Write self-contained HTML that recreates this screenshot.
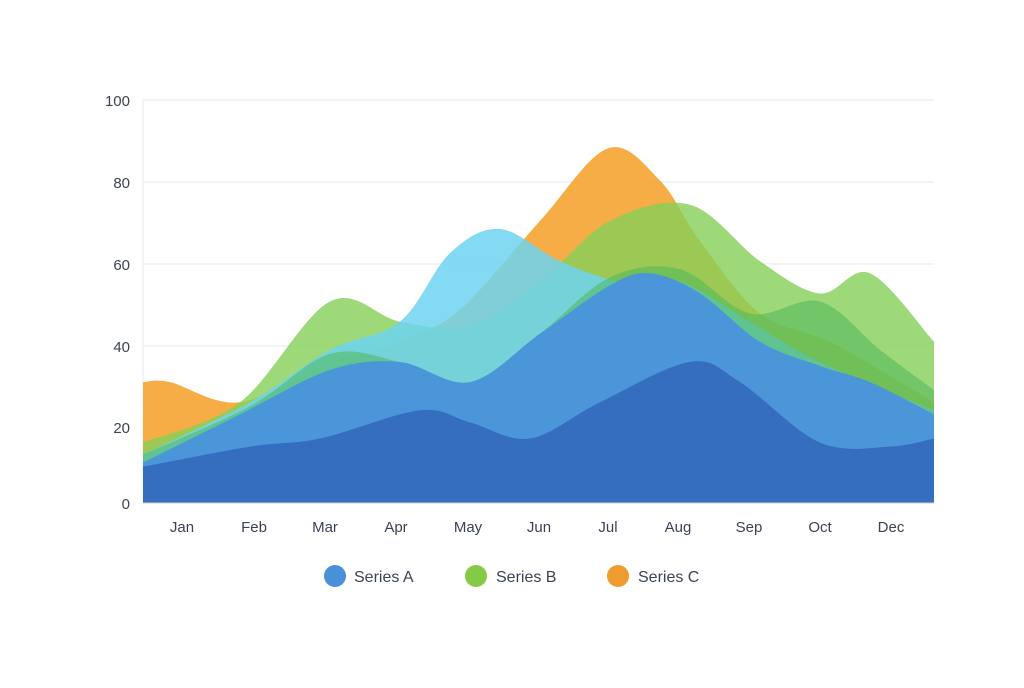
<!DOCTYPE html>
<html><head><meta charset="utf-8"><style>
html,body{margin:0;padding:0;background:#fff;}
svg text{font-family:"Liberation Sans",sans-serif;fill:#3c4257;}
</style></head><body>
<svg id="s" width="1024" height="683" xmlns="http://www.w3.org/2000/svg">
<g stroke="#e6e8ec" stroke-width="1">
<line x1="143" y1="100" x2="934" y2="100"/><line x1="143" y1="182" x2="934" y2="182"/>
<line x1="143" y1="264" x2="934" y2="264"/><line x1="143" y1="346" x2="934" y2="346"/>
<line x1="143" y1="427" x2="934" y2="427"/><line x1="143" y1="100" x2="143" y2="503"/>
</g>
<g id="areas"></g>
<line x1="143" y1="503" x2="934" y2="503" stroke="#c9ccd3"/>
<g font-size="15" text-anchor="end">
<text x="130" y="106">100</text><text x="130" y="188">80</text><text x="130" y="270">60</text>
<text x="130" y="352">40</text><text x="130" y="433">20</text><text x="130" y="509">0</text>
</g>
<g font-size="15" text-anchor="middle">
<text x="182" y="532">Jan</text><text x="254" y="532">Feb</text><text x="325" y="532">Mar</text>
<text x="396" y="532">Apr</text><text x="468" y="532">May</text><text x="539" y="532">Jun</text>
<text x="608" y="532">Jul</text><text x="678" y="532">Aug</text><text x="749" y="532">Sep</text>
<text x="820" y="532">Oct</text><text x="891" y="532">Dec</text>
</g>
<circle cx="335" cy="576" r="11" fill="#4a90d9"/><text x="354" y="582" font-size="16">Series A</text>
<circle cx="476" cy="576" r="11" fill="#86c947"/><text x="496" y="582" font-size="16">Series B</text>
<circle cx="618" cy="576" r="11" fill="#ee9c2e"/><text x="638" y="582" font-size="16">Series C</text>
</svg>
<script>
function Y(v){return 503-v*4.03;}
function path(pts){
 var p=pts.map(function(a){return [a[0],Y(a[1])];});
 var d="M143,503 L"+p[0][0]+","+p[0][1];
 for(var i=0;i<p.length-1;i++){
  var p0=p[i-1]||p[i],p1=p[i],p2=p[i+1],p3=p[i+2]||p2;
  var c1x=p1[0]+(p2[0]-p0[0])/6,c1y=p1[1]+(p2[1]-p0[1])/6;
  var c2x=p2[0]-(p3[0]-p1[0])/6,c2y=p2[1]-(p3[1]-p1[1])/6;
  d+=" C"+c1x+","+c1y+" "+c2x+","+c2y+" "+p2[0]+","+p2[1];
 }
 return d+" L934,503 Z";
}
var L=[
 ["#f6a93b",0.95,[[143,30],[170,30],[240,25],[330,35],[400,40],[460,48],[540,70],[608,88],[660,80],[700,65],[760,47],[830,40],[900,30],[934,25]]],
 ["#86d057",0.8,[[143,15],[240,25],[330,50],[400,45],[470,44],[540,55],[610,70],[690,74],[760,60],[820,52],[870,57],[934,40]]],
 ["#6dd3f0",0.85,[[143,12],[250,25],[330,38],[400,45],[450,62],[500,68],[560,60],[620,55],[680,55],[750,45],[820,35],[934,23]]],
 ["#4fb75a",0.55,[[143,12],[250,24],[330,37],[400,35],[470,30],[540,42],[610,56],[680,58],[750,47],[820,50],[880,38],[934,28]]],
 ["#4a93dc",0.95,[[143,10],[240,22],[330,33],[400,35],[470,30],[540,42],[610,54],[650,57],[700,52],[760,40],[820,34],[870,30],[934,22]]],
 ["#2f63b9",0.8,[[143,9],[250,14],[320,16],[420,23],[470,20],[530,16],[600,25],[690,35],[740,30],[820,15],[890,14],[934,16]]]
];
var g=document.getElementById("areas"),h="";
L.forEach(function(l){h+='<path d="'+path(l[2])+'" fill="'+l[0]+'" fill-opacity="'+l[1]+'"/>';});
g.innerHTML=h;
</script>
</body></html>
